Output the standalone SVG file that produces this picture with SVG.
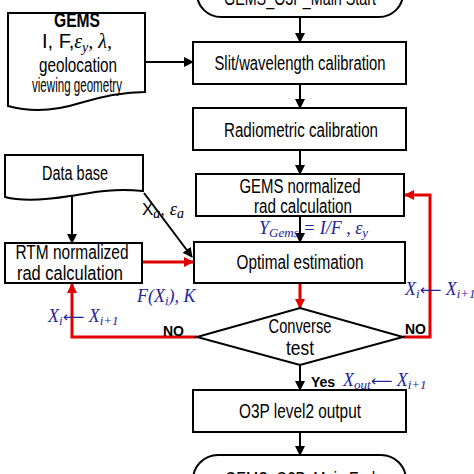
<svg xmlns="http://www.w3.org/2000/svg" width="474" height="474" viewBox="0 0 474 474">
<defs>
<marker id="ab" markerWidth="10" markerHeight="10" refX="9" refY="5" orient="auto" markerUnits="userSpaceOnUse"><path d="M0,0 L10,5 L0,10 Z" fill="#000"/></marker>
<marker id="ar" markerWidth="10" markerHeight="10" refX="9" refY="5" orient="auto" markerUnits="userSpaceOnUse"><path d="M0,0 L10,5 L0,10 Z" fill="#e00000"/></marker>
<style>
.box{fill:#fff;stroke:#000;stroke-width:2}
.t{font-family:"Liberation Sans","Noto Sans",sans-serif;font-size:20px;fill:#000;text-anchor:middle}
.m{font-family:"Liberation Serif","DejaVu Serif",serif;font-style:italic;font-size:18px;fill:#25259a}
.arw{font-family:"DejaVu Sans",sans-serif;font-style:normal;font-size:15px}
.b{font-family:"Liberation Sans",sans-serif;font-weight:bold;font-size:14px;fill:#000}
.k{stroke:#000;stroke-width:2;fill:none;marker-end:url(#ab)}
.r{stroke:#e00000;stroke-width:3;fill:none;marker-end:url(#ar)}
</style>
</defs>
<rect width="474" height="474" fill="#fff"/>
<g id="connectors">
<path class="k" d="M300,17 V42"/>
<path class="k" d="M300,84 V108"/>
<path class="k" d="M300,150 V174"/>
<path class="k" d="M300,216 V242"/>
<path class="k" d="M300,365 V390"/>
<path class="k" d="M300,432 V455"/>
<path class="k" d="M145,62 H193"/>
<path class="k" d="M72,196 V243"/>
<path class="k" d="M144,193 L192,257"/>
<path class="r" d="M143,262 H193"/>
<path class="r" d="M300,283 V308"/>
<path class="r" d="M197,337 H72 V284"/>
<path class="r" d="M403,337 H430 V195 H405"/>
</g>
<g id="start"><rect class="box" x="197" y="-30" width="206" height="47" rx="24"/><text class="t" x="300" y="5" textLength="152" lengthAdjust="spacingAndGlyphs">GEMS_O3P_Main Start</text></g>
<g id="gems-input">
<path class="box" d="M8,13 H145 V92 C120,92 100,97 80,103 C55,111 30,112 8,106 Z"/>
<text class="t" x="77" y="27" font-weight="bold" textLength="46" lengthAdjust="spacingAndGlyphs">GEMS</text>
<text class="t" x="77" y="48">I, F,<tspan font-family="Liberation Serif,serif" font-style="italic">ε<tspan font-size="14" dy="4">y</tspan><tspan dy="-4">, λ,</tspan></tspan></text>
<text class="t" x="78" y="72" textLength="78" lengthAdjust="spacingAndGlyphs">geolocation</text>
<text class="t" x="77" y="92" textLength="90" lengthAdjust="spacingAndGlyphs">viewing geometry</text>
</g>
<g id="slit"><rect class="box" x="193" y="42" width="213" height="42"/><text class="t" x="300" y="70" textLength="171" lengthAdjust="spacingAndGlyphs">Slit/wavelength calibration</text></g>
<g id="radiometric"><rect class="box" x="193" y="108" width="213" height="42"/><text class="t" x="301" y="137" textLength="154" lengthAdjust="spacingAndGlyphs">Radiometric calibration</text></g>
<g id="database">
<path class="box" d="M5,155 H143 V191 C110,188 90,193 70,196 C45,200 20,201 5,197 Z"/>
<text class="t" x="75" y="180" textLength="66" lengthAdjust="spacingAndGlyphs">Data base</text>
</g>
<g id="gems-norm"><rect class="box" x="196" y="174" width="208" height="42"/>
<text class="t" x="300" y="193" textLength="121" lengthAdjust="spacingAndGlyphs">GEMS normalized</text>
<text class="t" x="303" y="213" textLength="98" lengthAdjust="spacingAndGlyphs">rad calculation</text></g>
<g id="rtm"><rect class="box" x="5" y="243" width="137" height="40"/>
<text class="t" x="72" y="259" textLength="113" lengthAdjust="spacingAndGlyphs">RTM normalized</text>
<text class="t" x="70" y="280" textLength="106" lengthAdjust="spacingAndGlyphs">rad calculation</text></g>
<g id="optimal"><rect class="box" x="194" y="242" width="211" height="41"/><text class="t" x="300" y="269" textLength="127" lengthAdjust="spacingAndGlyphs">Optimal estimation</text></g>
<g id="converse"><path class="box" d="M197,337 L300,308 L403,337 L300,365 Z"/>
<text class="t" x="300" y="333" textLength="63" lengthAdjust="spacingAndGlyphs">Converse</text>
<text class="t" x="300" y="355" textLength="28" lengthAdjust="spacingAndGlyphs">test</text></g>
<g id="output"><rect class="box" x="193" y="390" width="213" height="42"/><text class="t" x="300" y="418" textLength="122" lengthAdjust="spacingAndGlyphs">O3P level2 output</text></g>
<g id="end"><rect class="box" x="193" y="455" width="213" height="50" rx="25"/><text class="t" x="300" y="486" textLength="150" lengthAdjust="spacingAndGlyphs">GEMS_O3P_Main End</text></g>
<g id="labels">
<text x="142" y="215" font-family="Liberation Sans,sans-serif" font-size="17">X<tspan font-family="Liberation Serif,serif" font-style="italic" font-size="14" dy="3">a</tspan><tspan dy="-3">, </tspan><tspan font-family="Liberation Serif,serif" font-style="italic" font-size="18">ε</tspan><tspan font-family="Liberation Serif,serif" font-style="italic" font-size="14" dy="3">a</tspan></text>
<text class="m" x="259" y="234">Y<tspan font-size="13" dy="3">Gems</tspan><tspan dy="-3"> = I/F , ε</tspan><tspan font-size="13" dy="3">y</tspan></text>
<text class="m" x="137" y="302">F(X<tspan font-size="13" dy="3">i</tspan><tspan dy="-3">), K</tspan></text>
<text class="m" x="48" y="322">X<tspan font-size="13" dy="3">i</tspan><tspan class="arw" dy="-3">⟵</tspan><tspan> X</tspan><tspan font-size="13" dy="3">i+1</tspan></text>
<text class="m" x="405" y="295">X<tspan font-size="13" dy="3">i</tspan><tspan class="arw" dy="-3">⟵</tspan><tspan> X</tspan><tspan font-size="13" dy="3">i+1</tspan></text>
<text class="m" x="343" y="386">X<tspan font-size="13" dy="3">out</tspan><tspan class="arw" dy="-3">⟵</tspan><tspan> X</tspan><tspan font-size="13" dy="3">i+1</tspan></text>
<text class="b" x="163" y="336">NO</text>
<text class="b" x="405" y="334">NO</text>
<text class="b" x="311" y="387">Yes</text>
</g>
</svg>
